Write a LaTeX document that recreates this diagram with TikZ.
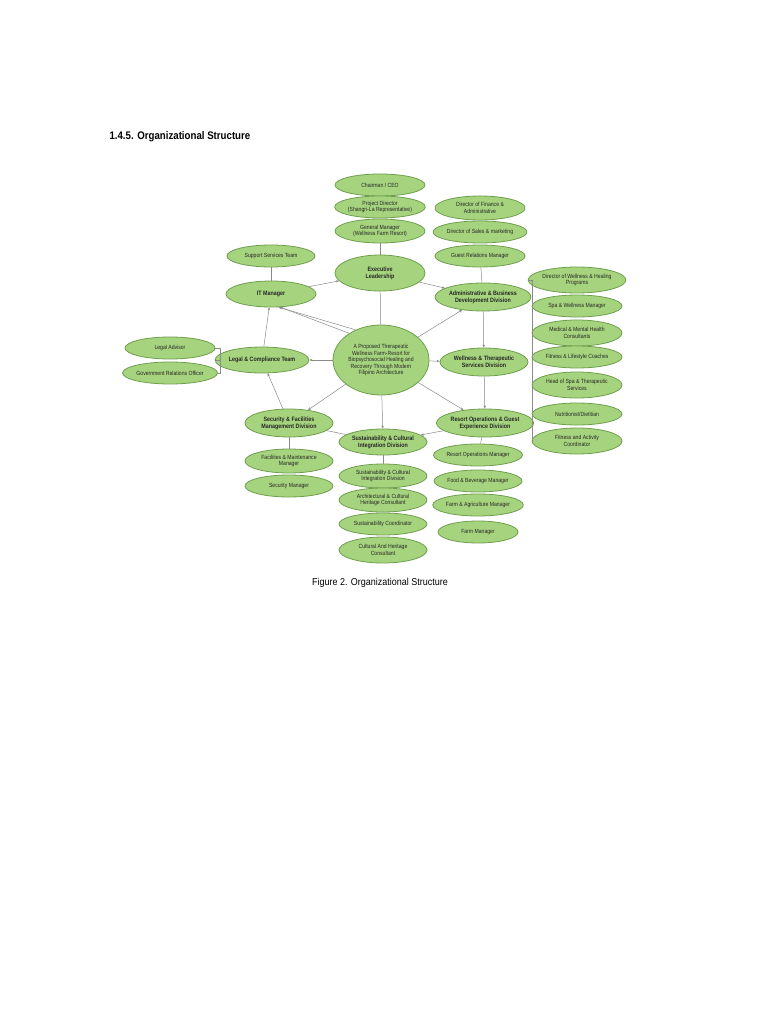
\documentclass[tikz,border=0pt]{standalone}
\usepackage{fontspec}
\setmainfont{Liberation Sans}
\usetikzlibrary{shapes.geometric,arrows.meta}
\definecolor{ovfill}{HTML}{A6D47E}
\definecolor{ovline}{HTML}{6E9E4E}
\definecolor{edge}{HTML}{8A8A8A}
\tikzset{
 ov/.style={ellipse,draw=ovline,fill=ovfill,line width=0.8pt,inner sep=0pt,align=center,font=\fontsize{6}{6.5}\selectfont\addfontfeature{FakeStretch=0.85},text=black!85},
 ovb/.style={ov,font=\fontsize{6.3}{7}\selectfont\bfseries\addfontfeature{FakeStretch=0.85}},
 ln/.style={draw=edge,line width=0.5pt},
 ar/.style={ln,-{Stealth[length=3pt,width=2.5pt]}}
}
\newcommand{\ovn}[6]{\node[#1,minimum width=#4pt,minimum height=#5pt] (#2) at #3 {#6};}
\begin{document}
\begin{tikzpicture}[x=1pt,y=-1pt]
\useasboundingbox[fill=white] (0,0) rectangle (768,1024);
\node[anchor=west,font=\fontsize{11}{12}\selectfont\bfseries\addfontfeature{FakeStretch=0.88}] (title) at (106,137) {1.4.5. Organizational Structure};
\node[font=\fontsize{10}{11}\selectfont\addfontfeature{FakeStretch=0.9}] (cap) at (380,583) {Figure 2. Organizational Structure};
% top column
\ovn{ov}{ceo}{(380,185)}{90}{22}{Chairman / CEO}
\ovn{ov}{pd}{(380,207)}{90}{22}{Project Director\\(Shangri-La Representative)}
\ovn{ov}{gm}{(380,231)}{90}{24}{General Manager\\(Wellness Farm Resort)}
\ovn{ovb}{exec}{(380,273)}{90}{36}{Executive\\Leadership}
\ovn{ov}{sup}{(271,256)}{88}{22}{Support Services Team}
\ovn{ovb}{it}{(271,294)}{90}{26}{IT Manager}
\ovn{ov}{fin}{(480,208)}{90}{24}{Director of Finance \&\\Administrative}
\ovn{ov}{sales}{(480,232)}{90}{22}{Director of Sales \& marketing}
\ovn{ov}{guest}{(480,256)}{90}{22}{Guest Relations Manager}
\ovn{ovb}{adm}{(483,297)}{90}{28}{Administrative \& Business\\Development Division}
% right column
\ovn{ov}{r1}{(577,280)}{90}{26}{Director of Wellness \& Healing\\Programs}
\ovn{ov}{r2}{(577,306)}{90}{22}{Spa \& Wellness Manager}
\ovn{ov}{r3}{(577,333)}{90}{26}{Medical \& Mental Health\\Consultants}
\ovn{ov}{r4}{(577,357)}{90}{22}{Fitness \& Lifestyle Coaches}
\ovn{ov}{r5}{(577,385)}{90}{26}{Head of Spa \& Therapeutic\\Services}
\ovn{ov}{r6}{(577,414)}{90}{22}{Nutritionist/Dietitian}
\ovn{ov}{r7}{(577,441)}{90}{26}{Fitness and Activity\\Coordinator}
% center
\ovn{ov}{ctr}{(381,360)}{96}{70}{A Proposed Therapeutic\\Wellness Farm-Resort for\\Biopsychosocial Healing and\\Recovery Through Modern\\Filipino Architecture}
\ovn{ovb}{well}{(484,362)}{88}{28}{Wellness \& Therapeutic\\Services Division}
\ovn{ovb}{legal}{(262,360)}{86}{26}{Legal \& Compliance Team}
\ovn{ov}{la}{(170,348)}{90}{22}{Legal Advisor}
\ovn{ov}{gov}{(170,373)}{90}{22}{Government Relations Officer}
\ovn{ovb}{sec}{(289,423)}{88}{28}{Security \& Facilities\\Management Division}
\ovn{ovb}{sust}{(383,442)}{88}{26}{Sustainability \& Cultural\\Integration Division}
\ovn{ovb}{res}{(485,423)}{88}{28}{Resort Operations \& Guest\\Experience Division}
\ovn{ov}{fm}{(289,461)}{88}{24}{Facilities \& Maintenance\\Manager}
\ovn{ov}{sm}{(289,486)}{88}{22}{Security Manager}
\ovn{ov}{s1}{(383,476)}{88}{24}{Sustainability \& Cultural\\Integration Division}
\ovn{ov}{s2}{(383,500)}{88}{24}{Architectural \& Cultural\\Heritage Consultant}
\ovn{ov}{s3}{(383,524)}{88}{22}{Sustainability Coordinator}
\ovn{ov}{s4}{(383,550)}{88}{26}{Cultural And Heritage\\Consultant}
\ovn{ov}{o1}{(478,455)}{88}{22}{Resort Operations Manager}
\ovn{ov}{o2}{(478,481)}{88}{22}{Food \& Beverage Manager}
\ovn{ov}{o3}{(478,505)}{88}{22}{Farm \& Agriculture Manager}
\ovn{ov}{o4}{(478,532)}{80}{22}{Farm Manager}
% edges
\coordinate (bar1) at (532,280); \coordinate (bar2) at (532,441);
\draw[ln] (bar1) -- (bar2);
\foreach \n in {r1,r2,r3,r4,r5,r6,r7} \draw[ln] (bar1 |- \n) -- (\n.west);
\draw[ln] (gm) -- (exec);
\draw[ln] (guest) -- (adm);
\draw[ln] (sup) -- (it);
\draw[ar] (it) -- (exec);
\draw[ar] (exec) -- (adm);
\draw[ln] (ctr) -- (exec);
\draw[ar] (ctr.130) -- (it.-60);
\draw[ar] (ctr.140) -- (it.-55);
\draw[ar] (ctr) -- (adm);
\draw[ar] (ctr) -- (legal);
\draw[ar] (ctr) -- (well);
\draw[ar] (adm) -- (well);
\draw[ar] (well) -- (res);
\draw[ar] (ctr) -- (res);
\draw[ar] (ctr) -- (sec);
\draw[ar] (ctr) -- (sust);
\draw[ar] (sec) -- (legal);
\draw[ar] (legal) -- (it);
\coordinate (lb) at (220,360);
\draw[ln] (legal.west) -- (lb) -- (lb |- la) -- (la.east);
\draw[ln] (lb) -- (lb |- gov) -- (gov.east);
\draw[ln] (sec) -- (sust);
\draw[ar] (res) -- (sust);
\draw[ln] (sec) -- (fm);
\draw[ln] (sust) -- (s1);
\draw[ln] (res) -- (o1);
\end{tikzpicture}
\end{document}
